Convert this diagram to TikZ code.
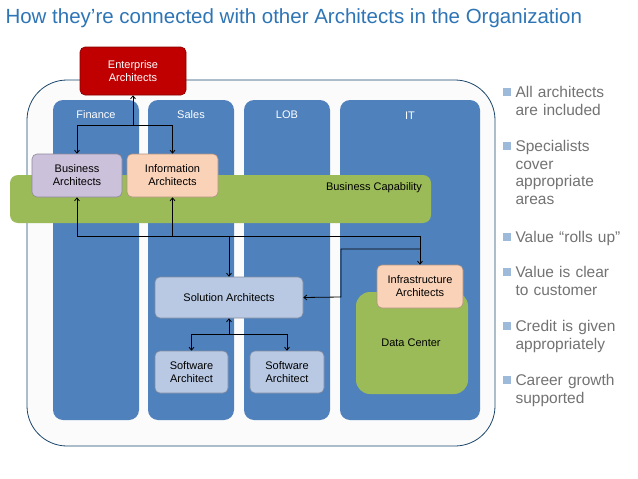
\documentclass[tikz,border=0pt]{standalone}
\usepackage{fontspec}
\setmainfont{Liberation Sans}
\usetikzlibrary{arrows.meta}
\definecolor{colblue}{HTML}{4F81BD}
\definecolor{grn}{HTML}{9BBB59}
\definecolor{ttl}{HTML}{2E75B6}
\definecolor{lb}{HTML}{B9C9E3}
\definecolor{pch}{HTML}{FAD2B8}
\definecolor{lav}{HTML}{CCC1DA}
\definecolor{ent}{HTML}{C00000}
\begin{document}
\begin{tikzpicture}[x=1pt,y=-1pt,
 col/.style={fill=colblue,rounded corners=10pt},
 box/.style={draw=#1!70!black,line width=0.6pt,rounded corners=5pt,fill=#1,align=center,font=\fontsize{11}{13}\selectfont},
 lbl/.style={text=white,font=\fontsize{11}{13}\selectfont},
 con/.style={line width=0.8pt,-{Straight Barb[length=3pt,width=5pt]}},
 bul/.style={anchor=north west,text=gray!90!black,font=\fontsize{15.5}{17.5}\selectfont,align=left,text width=130pt}]
\useasboundingbox (0,0) rectangle (638,479);
\fill[white] (0,0) rectangle (638,479);
\node[anchor=west,text=ttl,font=\fontsize{20.5}{22}\selectfont] (title) at (2,18) {How they’re connected with other Architects in the Organization};
\draw[draw=ttl!60!black,fill=gray!3,line width=0.8pt,rounded corners=40pt] (27,80) rectangle (495,446);
\fill[col] (53,100) rectangle (139,420);
\fill[col] (148,100) rectangle (234,420);
\fill[col] (244,100) rectangle (330,420);
\fill[col] (340,100) rectangle (480,420);
\node[lbl] (fin) at (96,115) {Finance};
\node[lbl] (sal) at (191,115) {Sales};
\node[lbl] (lob) at (287,115) {LOB};
\node[lbl] (it) at (410,116) {IT};
\fill[grn,rounded corners=8pt] (10,175) rectangle (431,223);
\node[font=\fontsize{11}{13}\selectfont] (bc) at (374,188) {Business Capability};
\fill[grn,rounded corners=14pt] (356,292) rectangle (468,394);
\node[font=\fontsize{11}{13}\selectfont] (dc) at (411,343) {Data Center};
\node[box=ent,text=white,minimum width=106pt,minimum height=48pt] (ea) at (133,71) {Enterprise\\Architects};
\node[box=lav,minimum width=90pt,minimum height=43pt] (ba) at (77,175.5) {Business\\Architects};
\node[box=pch,minimum width=91pt,minimum height=43pt] (ia) at (172.5,175.5) {Information\\Architects};
\node[box=lb,minimum width=148pt,minimum height=41pt] (sa) at (229,297.5) {Solution Architects};
\node[box=pch,minimum width=86pt,minimum height=43pt] (ra) at (420,286.5) {Infrastructure\\Architects};
\node[box=lb,minimum width=73pt,minimum height=42pt] (s1) at (191.5,372) {Software\\Architect};
\node[box=lb,minimum width=74pt,minimum height=42pt] (s2) at (287,372) {Software\\Architect};
\coordinate (j1) at (133,125);
\coordinate (j2) at (229,236);
\coordinate (j3) at (420,249);
\coordinate (j4) at (229,334);
\draw[con] (j1) -- (ea.south);
\draw[con] (j1) -| (ba.north);
\draw[con] (j1) -| (ia.north);
\draw[con] (j2) -| (ba.south);
\draw[con] (j2) -| (ia.south);
\draw[con] (j2) -- (sa.north);
\draw[con] (j2) -| (ra.north);
\draw[con] (j3) -| (341,297) -- (sa.east);
\draw[con] (j4) -- (sa.south);
\draw[con] (j4) -| (s1.north);
\draw[con] (j4) -| (s2.north);
\foreach \yy/\t [count=\i] in {83/All architects\\are included,137/Specialists\\cover\\appropriate\\areas,228/Value “rolls up”,263/Value is clear\\to customer,317/Credit is given\\appropriately,371/Career growth\\supported}{
 \fill[colblue!55] (503,\yy+5) rectangle +(8,8);
 \node[bul] (b\i) at (512,\yy) {\t};
}
\end{tikzpicture}
\end{document}
